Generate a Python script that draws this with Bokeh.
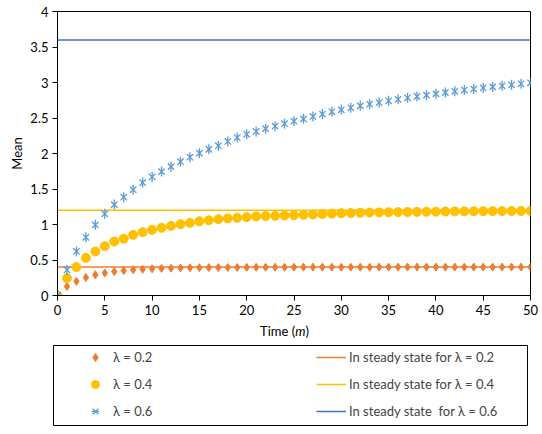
from bokeh.plotting import figure
from bokeh.layouts import column
from bokeh.models import Range1d, Legend, LegendItem, FixedTicker, Div
from bokeh.embed import file_html
from bokeh.resources import INLINE

FONT = "Lato"

time_m = list(range(51))
mean_02 = [0, 0.127, 0.200, 0.255, 0.292, 0.318, 0.337, 0.351, 0.362, 0.370,
           0.376, 0.381, 0.385, 0.388, 0.390, 0.392, 0.393, 0.394, 0.395, 0.396,
           0.397, 0.397, 0.398, 0.398, 0.398, 0.398, 0.399, 0.399, 0.399, 0.399,
           0.399, 0.399, 0.399, 0.399, 0.400, 0.400, 0.400, 0.400, 0.400, 0.400,
           0.400, 0.400, 0.400, 0.400, 0.400, 0.400, 0.400, 0.400, 0.400, 0.400,
           0.400]
mean_04 = [0, 0.244, 0.400, 0.530, 0.620, 0.695, 0.760, 0.800, 0.854, 0.892,
           0.925, 0.953, 0.981, 1.004, 1.023, 1.045, 1.060, 1.075, 1.085, 1.094,
           1.103, 1.112, 1.118, 1.122, 1.127, 1.131, 1.136, 1.141, 1.148, 1.153,
           1.158, 1.162, 1.165, 1.168, 1.170, 1.172, 1.174, 1.176, 1.178, 1.180,
           1.181, 1.183, 1.184, 1.185, 1.186, 1.187, 1.188, 1.189, 1.190, 1.190,
           1.191]
mean_06 = [0, 0.36, 0.62, 0.82, 0.995, 1.15, 1.28, 1.385, 1.49, 1.59,
           1.67, 1.745, 1.815, 1.885, 1.948, 2.005, 2.06, 2.11, 2.17, 2.225,
           2.27, 2.31, 2.35, 2.385, 2.42, 2.455, 2.488, 2.522, 2.555, 2.587,
           2.615, 2.643, 2.671, 2.695, 2.718, 2.742, 2.763, 2.784, 2.803, 2.822,
           2.840, 2.859, 2.876, 2.893, 2.908, 2.923, 2.938, 2.953, 2.967, 2.982,
           2.996]
steady = [0.4, 1.2, 3.6]
lambdas = ["0.2", "0.4", "0.6"]

x_ticks = list(range(0, 51, 5))
y_ticks = [0, 0.5, 1, 1.5, 2, 2.5, 3, 3.5, 4]
y_tick_labels = ["0", "0.5", "1", "1.5", "2", "2.5", "3", "3.5", "4"]

marker_colors = ["#ED7D31", "#FFC000", "#5B9BD5"]
line_colors = ["#ED7D31", "#FFC000", "#4472C4"]

W = 538


def draw_series(fig):
    lines = [fig.line([time_m[0], time_m[-1]], [s, s], line_color=c, line_width=1.5)
             for s, c in zip(steady, line_colors)]
    r02 = fig.scatter(time_m, mean_02, marker="diamond", size=8, color=marker_colors[0])
    r04 = fig.scatter(time_m, mean_04, marker="circle", size=9, color=marker_colors[1])
    r06a = fig.scatter(time_m, mean_06, marker="x", size=9, line_color=marker_colors[2],
                       line_width=1.3)
    r06b = fig.scatter(time_m, mean_06, marker="dash", size=10, angle=1.5708,
                       line_color=marker_colors[2], line_width=1.3)
    return lines, [[r02], [r04], [r06a, r06b]]


# ---- main chart ----
p = figure(width=W, height=319, output_backend="svg", toolbar_location=None,
           x_range=Range1d(0, 50), y_range=Range1d(0, 4))
p.frame_align = False
p.min_border_left = 57
p.min_border_right = 8
p.min_border_top = 11
p.min_border_bottom = 24
p.outline_line_color = "black"
p.outline_line_width = 1
p.grid.visible = False

for ax in (p.xaxis[0], p.yaxis[0]):
    ax.axis_line_color = "black"
    ax.major_tick_line_color = "black"
    ax.minor_tick_line_color = None
    ax.major_tick_in = 0
    ax.major_tick_out = 5
    ax.major_label_standoff = 4
    ax.major_label_text_font = FONT
    ax.major_label_text_font_size = "13px"
    ax.major_label_text_color = "black"
    ax.axis_label_text_font = FONT
    ax.axis_label_text_font_size = "13px"
    ax.axis_label_text_font_style = "normal"
    ax.axis_label_text_color = "black"

p.xaxis.ticker = FixedTicker(ticks=x_ticks)
p.yaxis.ticker = FixedTicker(ticks=y_ticks)
p.yaxis.major_label_overrides = dict(zip(y_ticks, y_tick_labels))
p.yaxis.axis_label = "Mean"
p.yaxis.axis_label_standoff = 2

draw_series(p)

# x axis title with italic m
title = Div(text='<div style="width:538px;box-sizing:border-box;padding-left:31px;'
                 'text-align:center;font-family:Lato;font-size:13px;line-height:25px;'
                 'color:black">Time (<i>m</i>)</div>',
            width=W, height=25, margin=(0, 0, 0, 0))

# ---- legend box (its ranges keep the series out of view) ----
lg = figure(width=W, height=82, output_backend="svg", toolbar_location=None,
            x_range=Range1d(-3, -2), y_range=Range1d(-3, -2),
            x_axis_location=None, y_axis_location=None)
lg.frame_align = False
lg.min_border_left = 53
lg.min_border_right = W - 527
lg.min_border_top = 1
lg.min_border_bottom = 1
lg.outline_line_color = "black"
lg.outline_line_width = 1
lg.grid.visible = False

l_rs, m_rs = draw_series(lg)

items = [LegendItem(label="λ = " + lam, renderers=rs) for lam, rs in zip(lambdas, m_rs)]
items += [
    LegendItem(label="In steady state for λ = " + lambdas[0], renderers=[l_rs[0]]),
    LegendItem(label="In steady state for λ = " + lambdas[1], renderers=[l_rs[1]]),
    LegendItem(label="In steady state  for λ = " + lambdas[2], renderers=[l_rs[2]]),
]
legend = Legend(items=items, ncols=2, location=(27, 4),
                border_line_color=None, background_fill_alpha=0,
                label_text_font=FONT, label_text_font_size="13px",
                glyph_width=30, glyph_height=20, label_height=20,
                label_width=196, label_standoff=3, spacing=7, padding=0,
                margin=0)
lg.add_layout(legend, "center")

open("out.html", "w").write(file_html(column(p, title, lg), INLINE))
